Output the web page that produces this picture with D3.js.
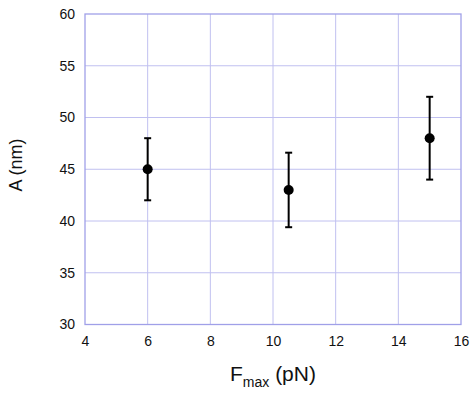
<!DOCTYPE html>
<html><head><meta charset="utf-8">
<script src="https://cdn.jsdelivr.net/npm/d3@7"></script>
<style>body{margin:0;background:#fff;} svg{display:block;font-family:"Liberation Sans",Arial,sans-serif;}</style>
</head><body>
<svg id="c" width="474" height="403"></svg>
<script>
const xValues = [6, 10.5, 15];
const yValues = [45, 43, 48];
const yLower = [42, 39.4, 44];
const yUpper = [48, 46.6, 52];
const xTicks = [4, 6, 8, 10, 12, 14, 16];
const yTicks = [30, 35, 40, 45, 50, 55, 60];

const svg = d3.select("#c");
const L = 85, R = 461, T = 14, B = 324.5;
const x = d3.scaleLinear().domain([4, 16]).range([L, R]);
const y = d3.scaleLinear().domain([30, 60]).range([B, T]);

// grid
const gridColor = "#c0c0f0";
svg.append("g").selectAll("line.gx").data(xTicks.slice(1, -1)).enter().append("line")
  .attr("x1", d => x(d)).attr("x2", d => x(d)).attr("y1", T).attr("y2", B)
  .attr("stroke", gridColor).attr("stroke-width", 1);
svg.append("g").selectAll("line.gy").data(yTicks.slice(1, -1)).enter().append("line")
  .attr("y1", d => y(d)).attr("y2", d => y(d)).attr("x1", L).attr("x2", R)
  .attr("stroke", gridColor).attr("stroke-width", 1);

// frame
svg.append("rect").attr("x", L).attr("y", T).attr("width", R - L).attr("height", B - T)
  .attr("fill", "none").attr("stroke", "#a0a0e8").attr("stroke-width", 1.3);

// axes (labels only)
const xAxis = d3.axisBottom(x).tickValues(xTicks).tickSize(0).tickPadding(12).tickFormat(d3.format("d"));
const yAxis = d3.axisLeft(y).tickValues(yTicks).tickSize(0).tickPadding(10).tickFormat(d3.format("d"));
const gx = svg.append("g").attr("transform", `translate(0,${B})`).call(xAxis);
const gy = svg.append("g").attr("transform", `translate(${L},0)`).call(yAxis);
[gx, gy].forEach(g => {
  g.select(".domain").remove();
  g.selectAll("text").attr("font-size", 14).attr("fill", "#111")
    .attr("font-family", "'Liberation Sans', Arial, sans-serif");
});

// error bars
const data = xValues.map((d, i) => ({x: d, y: yValues[i], lo: yLower[i], hi: yUpper[i]}));
const eb = svg.append("g");
eb.selectAll("line.v").data(data).enter().append("line")
  .attr("x1", d => x(d.x)).attr("x2", d => x(d.x)).attr("y1", d => y(d.lo)).attr("y2", d => y(d.hi))
  .attr("stroke", "#000").attr("stroke-width", 2);
eb.selectAll("line.t").data(data).enter().append("line")
  .attr("x1", d => x(d.x) - 3.5).attr("x2", d => x(d.x) + 3.5).attr("y1", d => y(d.hi)).attr("y2", d => y(d.hi))
  .attr("stroke", "#000").attr("stroke-width", 2);
eb.selectAll("line.b").data(data).enter().append("line")
  .attr("x1", d => x(d.x) - 3.5).attr("x2", d => x(d.x) + 3.5).attr("y1", d => y(d.lo)).attr("y2", d => y(d.lo))
  .attr("stroke", "#000").attr("stroke-width", 2);
eb.selectAll("circle").data(data).enter().append("circle")
  .attr("cx", d => x(d.x)).attr("cy", d => y(d.y)).attr("r", 5).attr("fill", "#000");

// axis titles
svg.append("text").attr("transform", `translate(22,165) rotate(-90)`)
  .attr("text-anchor", "middle").attr("font-size", 18).attr("fill", "#111").text("A (nm)");
const xt = svg.append("text").attr("x", (L + R) / 2).attr("y", 381)
  .attr("text-anchor", "middle").attr("font-size", 21).attr("fill", "#111");
xt.append("tspan").text("F");
xt.append("tspan").attr("font-size", 14).attr("dy", 6).text("max");
xt.append("tspan").attr("dy", -6).text(" (pN)");
</script>
</body></html>
